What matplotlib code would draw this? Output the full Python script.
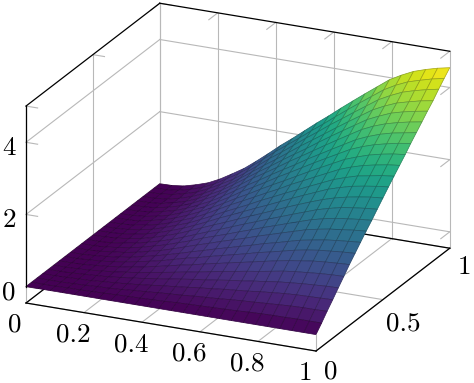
import matplotlib
matplotlib.use('Agg')
import matplotlib.pyplot as plt
import numpy as np
from mpl_toolkits.mplot3d import proj3d

##-------------------------------------------------------------
x_samples = [0, .042, .083, .125, .167, .208, .25, .292, .333, .375, .417, .458, .5,
             .542, .583, .625, .667, .708, .75, .792, .833, .875, .917, .958, 1]
y_samples = list(x_samples)

# surface heights, one row per y sample
z_rows = [
    [0]*25,
    [0,0,0,.01,.01,.02,.03,.04,.05,.06,.07,.08,.10,.11,.12,.13,.14,.15,.17,.18,.19,.19,.20,.20,.20],
    [0,0,0,.01,.02,.04,.05,.07,.10,.12,.15,.17,.19,.22,.24,.26,.29,.31,.33,.35,.37,.39,.40,.40,.41],
    [0,0,.01,.02,.03,.06,.08,.11,.14,.18,.22,.25,.29,.33,.36,.40,.43,.46,.50,.53,.56,.58,.59,.60,.61],
    [0,0,.01,.03,.05,.07,.11,.15,.19,.24,.29,.34,.39,.43,.48,.53,.57,.62,.66,.71,.74,.77,.79,.81,.82],
    [0,0,.01,.03,.06,.09,.14,.18,.24,.30,.36,.42,.48,.54,.60,.66,.72,.77,.83,.89,.93,.96,.99,1.01,1.02],
    [0,0,.01,.04,.07,.11,.16,.22,.29,.36,.44,.50,.58,.65,.72,.79,.86,.93,1.00,1.06,1.11,1.16,1.19,1.21,1.23],
    [0,0,.02,.04,.08,.13,.19,.26,.33,.42,.51,.58,.67,.75,.83,.91,1.00,1.07,1.15,1.23,1.29,1.34,1.37,1.40,1.42],
    [0,0,.02,.05,.09,.14,.22,.29,.38,.47,.57,.66,.76,.85,.94,1.03,1.13,1.21,1.30,1.39,1.45,1.51,1.55,1.58,1.61],
    [0,0,.02,.06,.10,.16,.24,.32,.42,.53,.64,.74,.85,.95,1.05,1.16,1.26,1.36,1.46,1.56,1.63,1.69,1.73,1.77,1.80],
    [0,0,.02,.06,.11,.18,.27,.36,.47,.58,.71,.82,.93,1.05,1.16,1.28,1.39,1.50,1.61,1.72,1.80,1.87,1.91,1.95,1.98],
    [0,0,.02,.07,.12,.20,.29,.39,.51,.64,.77,.89,1.02,1.15,1.27,1.40,1.52,1.64,1.76,1.88,1.97,2.05,2.10,2.14,2.17],
    [0,.01,.03,.07,.13,.21,.32,.43,.56,.70,.84,.97,1.11,1.25,1.38,1.52,1.66,1.79,1.92,2.04,2.14,2.22,2.28,2.33,2.36],
    [0,.01,.03,.08,.14,.23,.34,.46,.60,.75,.91,1.05,1.20,1.35,1.49,1.64,1.79,1.93,2.07,2.21,2.31,2.40,2.46,2.51,2.55],
    [0,.01,.03,.08,.15,.25,.37,.49,.64,.80,.97,1.12,1.28,1.45,1.60,1.76,1.91,2.06,2.21,2.36,2.47,2.57,2.63,2.69,2.73],
    [0,.01,.03,.09,.16,.26,.39,.52,.68,.86,1.04,1.20,1.37,1.54,1.70,1.88,2.04,2.20,2.36,2.52,2.64,2.74,2.81,2.87,2.91],
    [0,.01,.03,.10,.17,.28,.41,.56,.73,.91,1.10,1.27,1.46,1.64,1.81,1.99,2.17,2.34,2.51,2.68,2.80,2.91,2.99,3.05,3.09],
    [0,.01,.04,.10,.18,.30,.44,.59,.77,.96,1.17,1.35,1.54,1.74,1.92,2.11,2.30,2.48,2.66,2.84,2.97,3.08,3.16,3.23,3.28],
    [0,.01,.04,.11,.19,.31,.46,.62,.81,1.02,1.23,1.42,1.63,1.83,2.02,2.23,2.42,2.61,2.80,2.99,3.13,3.25,3.34,3.40,3.46],
    [0,.01,.04,.11,.20,.33,.49,.66,.86,1.07,1.30,1.50,1.71,1.93,2.13,2.34,2.55,2.75,2.95,3.15,3.30,3.42,3.51,3.58,3.64],
    [0,.01,.04,.12,.21,.34,.51,.69,.90,1.13,1.36,1.57,1.80,2.02,2.23,2.46,2.68,2.89,3.10,3.31,3.46,3.60,3.69,3.76,3.82],
    [0,.01,.04,.12,.22,.36,.54,.72,.94,1.18,1.42,1.64,1.88,2.12,2.34,2.57,2.80,3.02,3.24,3.46,3.62,3.76,3.85,3.93,3.99],
    [0,.01,.05,.13,.23,.38,.56,.75,.98,1.23,1.49,1.72,1.97,2.22,2.45,2.70,2.93,3.16,3.39,3.62,3.79,3.94,4.04,4.12,4.19],
    [0,.01,.05,.13,.24,.39,.59,.79,1.03,1.29,1.56,1.80,2.05,2.31,2.55,2.81,3.06,3.30,3.54,3.78,3.96,4.11,4.21,4.30,4.37],
    [0,.01,.05,.14,.25,.41,.61,.82,1.07,1.34,1.62,1.87,2.14,2.41,2.66,2.93,3.19,3.44,3.69,3.94,4.12,4.28,4.39,4.48,4.55],
]

x_ticks = [0, .2, .4, .6, .8, 1]
y_ticks = [0, .5, 1]
z_ticks = [0, 2, 4]
x_labels = ['0', '0.2', '0.4', '0.6', '0.8', '1']
y_labels = ['0', '0.5', '1']
z_labels = ['0', '2', '4']
##-------------------------------------------------------------

zmin, zmax = -.455, 5.005
grey = '#b8b8b8'
W, H = 474, 383

fig = plt.figure(figsize=(W/100., H/100.), dpi=100)
ax = fig.add_axes([0, 0, 1, 1], projection='3d', computed_zorder=False)
ax.set_proj_type('ortho')
ax.view_init(elev=20.9, azim=-65.1)
ax.set_box_aspect((320, 318, 211))
ax.set_axis_off()

X, Y = np.meshgrid(x_samples, y_samples)
Z = np.array(z_rows)

def seg(p, q, color=grey, lw=.8, zo=1):
    ax.plot([p[0], q[0]], [p[1], q[1]], [p[2], q[2]], color=color, lw=lw, zorder=zo,
            solid_capstyle='projecting')

# grid on floor and the two back walls, ticks on top
for x in x_ticks:
    seg((x, 0, zmin), (x, 1, zmin))
    seg((x, 1, zmin), (x, 1, zmax))
    seg((x, 1, zmax), (x, .933, zmax))
for y in y_ticks:
    seg((0, y, zmin), (1, y, zmin))
    seg((0, y, zmin), (0, y, zmax))
    seg((0, y, zmax), (.04, y, zmax))
for z in z_ticks:
    seg((0, 0, z), (0, 1, z))
    seg((0, 1, z), (1, 1, z))
    seg((0, 0, z), (.04, 0, z))
    seg((1, 1, z), (1, .933, z))
seg((1, 0, zmin), (1, 0, 0))

# box edges that go behind the surface
seg((0, 0, zmin), (0, 1, zmin), 'k', .9, 1.5)
seg((0, 1, zmin), (1, 1, zmin), 'k', .9, 1.5)

surf = ax.plot_surface(X, Y, Z, rstride=1, cstride=1, cmap='viridis', vmin=0, vmax=4.55,
                       shade=False, linewidth=.5, antialiased=True, zorder=2)
# mesh lines are a darker shade of the cell colour
zavg = (Z[:-1, :-1]+Z[1:, :-1]+Z[:-1, 1:]+Z[1:, 1:])/4.
edge = plt.cm.viridis(zavg.ravel()/4.55)
edge[:, :3] = edge[:, :3]*.72
surf.set_edgecolor(edge)

# box edges in front
seg((0, 0, zmin), (1, 0, zmin), 'k', .9, 3)
seg((1, 0, zmin), (1, 1, zmin), 'k', .9, 3)
seg((0, 0, 0), (0, 0, zmax), 'k', .9, 3)
seg((0, 0, zmax), (0, 1, zmax), 'k', .9, 3)
seg((0, 1, zmax), (1, 1, zmax), 'k', .9, 3)

ax.set_xlim(0, 1, view_margin=0)
ax.set_ylim(0, 1, view_margin=0)
ax.set_zlim(zmin, zmax, view_margin=0)

# put the box on the same pixels as the reference
M = ax.get_proj()
u0, v0, _ = proj3d.proj_transform(0, 0, zmin, M)
u1, v1, _ = proj3d.proj_transform(1, 0, zmin, M)
vl = ax.viewLim
side = 290./(u1-u0)*(vl.x1-vl.x0)
left = 26-(u0-vl.x0)/(vl.x1-vl.x0)*side
bottom = (H-303)-(v0-vl.y0)/(vl.y1-vl.y0)*side
ax.set_position([left/W, bottom/H, side/W, side/H])

def put_label(x, y, z, txt, dx, dy):
    u, v, _ = proj3d.proj_transform(x, y, z, M)
    ax.annotate(txt, xy=(u, v), xytext=(dx, -dy), textcoords='offset pixels', ha='center', va='center',
                family='cmr10', fontsize=19.5, color='k', annotation_clip=False)

for x, lab in zip(x_ticks, x_labels):
    put_label(x, 0, zmin, lab, -11, 22)
for y, lab, off in zip(y_ticks, y_labels, [(15, 21), (20, 24), (15, 19)]):
    put_label(1, y, zmin, lab, off[0], off[1])
for z, lab in zip(z_ticks, z_labels):
    put_label(0, 0, z, lab, -17, 6)

plt.savefig('out.png', dpi=100)
